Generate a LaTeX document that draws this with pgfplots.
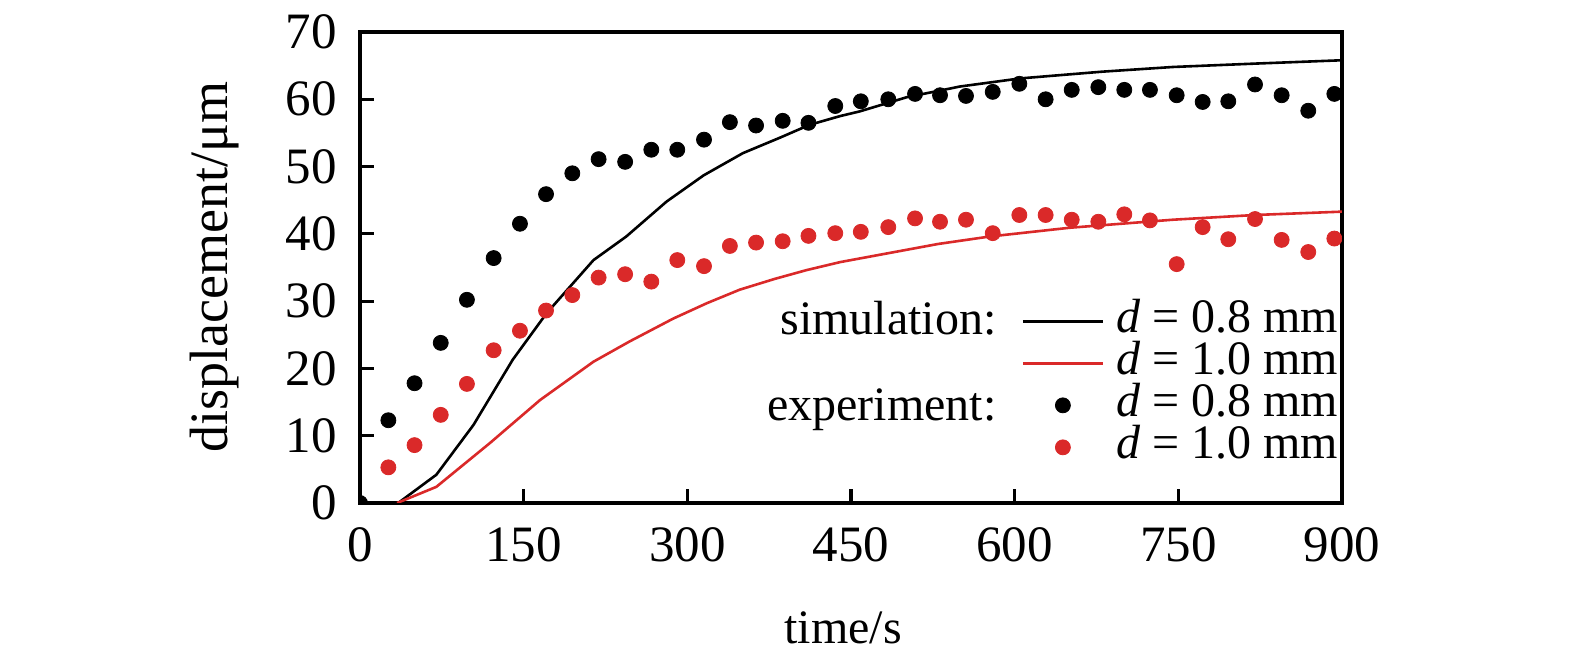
\documentclass[border=0pt]{standalone}
\usepackage{pgfplots}
\pgfplotsset{compat=1.18}
\usepackage{fontspec}
\setmainfont{Liberation Serif}
\definecolor{myred}{RGB}{218,41,41}

\pgfplotstableread{
t y
0 0
26 12.3
50 17.8
74 23.8
98 30.2
122.5 36.4
146.6 41.5
170.5 45.9
194.6 49.0
218.7 51.1
243 50.7
267 52.5
290.8 52.5
315.3 54.0
339 56.6
363 56.1
387.4 56.8
411 56.5
435.6 59.0
459 59.7
484.2 60.0
508.7 60.8
531.6 60.6
555.4 60.5
579.9 61.1
604.3 62.3
628.4 60.0
652.3 61.4
676.7 61.8
700.5 61.4
724 61.4
748.5 60.6
772.3 59.6
795.8 59.7
820.3 62.2
844.7 60.6
869.1 58.3
893 60.8
}\expblack

\pgfplotstableread{
t y
26 5.3
50 8.6
74 13.1
98 17.7
122.5 22.7
146.6 25.6
170.5 28.6
194.6 30.9
218.7 33.5
243 34.0
267 32.9
290.8 36.1
315.3 35.2
339 38.2
363 38.7
387.4 38.9
411 39.7
435.6 40.1
459 40.3
484.2 41.0
508.7 42.3
531.6 41.8
555.4 42.1
579.9 40.1
604.3 42.8
628.4 42.8
652.3 42.1
676.7 41.8
700.5 42.9
724 42.0
748.5 35.5
772.3 41.0
795.8 39.2
820.3 42.2
844.7 39.1
869.1 37.3
893 39.3
}\expred

\pgfplotstableread{
t y
35 0
70 4.2
104 11.6
140 21.3
171 28.2
214 36.1
244 39.6
281 44.8
315 48.7
351 52.0
385 54.3
412 56.2
440 57.5
458 58.2
501 60.3
550 61.9
605 63.1
680 64.1
745 64.8
820 65.3
900 65.8
}\simblack

\pgfplotstableread{
t y
34 0
70 2.4
119 8.9
165 15.3
214 21.0
247 24.0
287 27.4
318 29.7
348 31.7
380 33.3
409 34.6
440 35.8
480 37.0
530 38.5
577 39.6
650 40.9
745 42.1
820 42.8
900 43.3
}\simred

\begin{document}
\begin{tikzpicture}
\begin{axis}[
  at={(0,0)}, anchor=south west,
  scale only axis,
  width=491pt, height=235.5pt,
  xmin=0, xmax=900, ymin=0, ymax=70,
  xtick={0,150,300,450,600,750,900},
  ytick={0,10,20,30,40,50,60,70},
  tick align=inside,
  xtick pos=bottom, ytick pos=left,
  major tick length=7pt,
  clip marker paths=true,
  axis line style={line width=1.6pt},
  every tick/.style={line width=1.6pt, black},
  /pgf/number format/assume math mode=true,
  ticklabel style={font=\fontsize{25.5}{30}\selectfont, inner sep=0pt},
  xticklabel style={anchor=base, yshift=-29.5pt},
  yticklabel style={anchor=east, xshift=-11.5pt},
  xlabel={time/s},
  ylabel={displacement/μm},
  xlabel style={font=\fontsize{24}{28}\selectfont, at={(axis description cs:0.492,-0.265)}, anchor=center},
  ylabel style={font=\fontsize{27}{32}\selectfont, at={(axis description cs:-0.148,0.501)}, anchor=center, rotate=0},
  legend style={draw=none, fill=none, inner sep=0pt, outer sep=0pt,
    at={(rel axis cs:0.996,0.426)}, anchor=north east,
    font=\fontsize{24}{28}\selectfont,
    nodes={inner sep=0pt, text height=15pt, text depth=4pt},
    row sep=2pt,
    /tikz/every odd column/.append style={column sep=6pt}},
  legend cell align=left,
  legend image code/.code={\draw[mark repeat=2,mark phase=2,#1] plot coordinates {(0pt,0pt) (20pt,0pt) (40pt,0pt)};},
]
\addplot[black, line width=1.3pt] table[x=t,y=y] {\simblack};
\addlegendentry{\textit{d} = 0.8 mm}
\addplot[myred, line width=1.3pt] table[x=t,y=y] {\simred};
\addlegendentry{\textit{d} = 1.0 mm}
\addplot[only marks, mark=*, mark size=3.75pt, black, mark options={draw=black, fill=black}] table[x=t,y=y] {\expblack};
\addlegendentry{\textit{d} = 0.8 mm}
\addplot[only marks, mark=*, mark size=3.75pt, myred, mark options={draw=myred, fill=myred}] table[x=t,y=y] {\expred};
\addlegendentry{\textit{d} = 1.0 mm}
\node[anchor=base east, inner sep=0pt, font=\fontsize{24}{28}\selectfont] at (rel axis cs:0.6487,0.3567) {simulation:};
\node[anchor=base east, inner sep=0pt, font=\fontsize{24}{28}\selectfont] at (rel axis cs:0.6487,0.176) {experiment:};
\end{axis}
\pgfresetboundingbox
\path[use as bounding box] (-180pt,-79.5pt) rectangle (607.5pt,251.5pt);
\end{tikzpicture}
\end{document}
